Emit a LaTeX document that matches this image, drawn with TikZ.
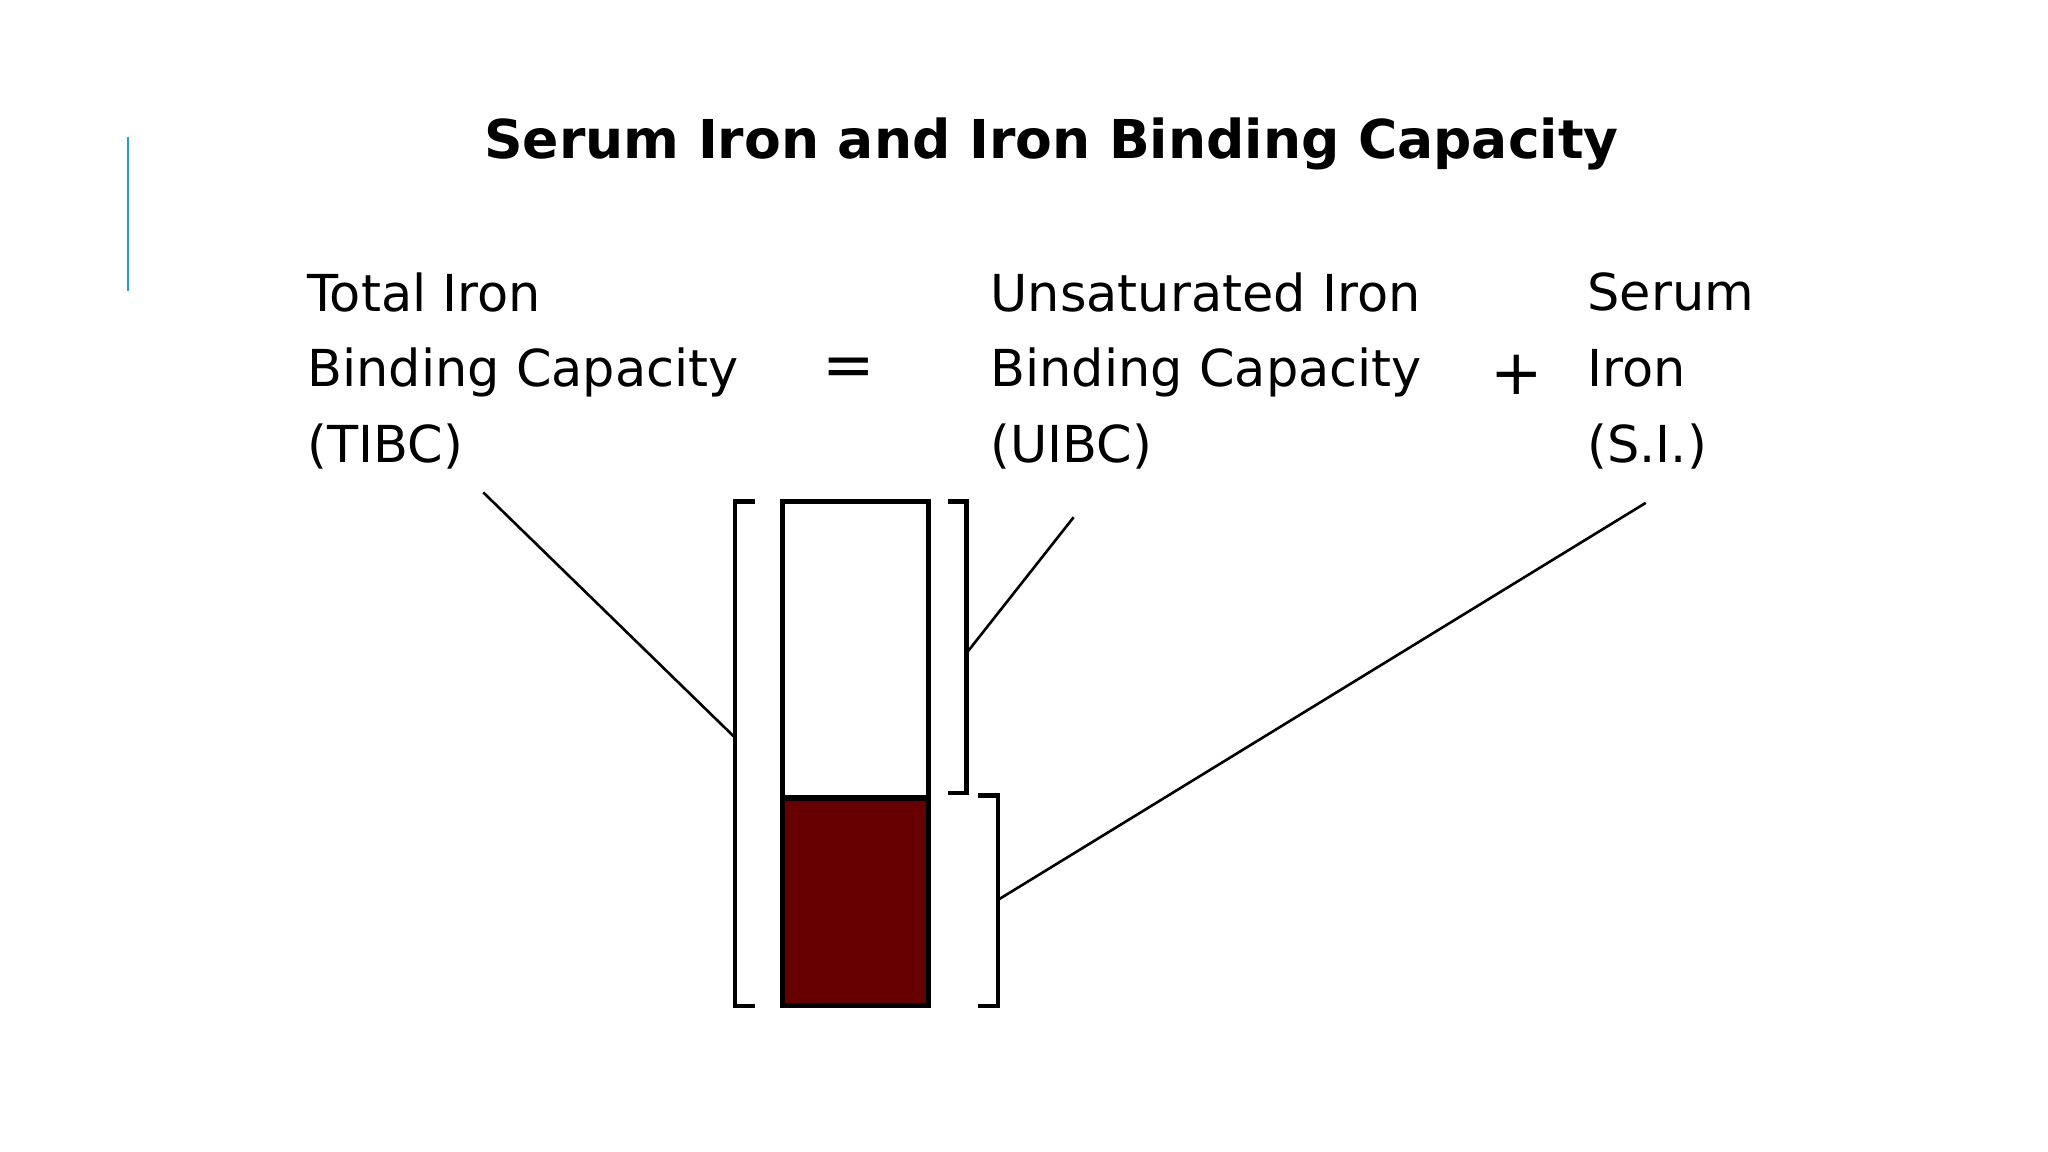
\documentclass[tikz,border=0pt]{standalone}
\usepackage{fontspec}
\setmainfont{DejaVu Sans}
\definecolor{iron}{HTML}{660000}
\definecolor{accent}{HTML}{1BA1D6}
\begin{document}
\begin{tikzpicture}[x=0.5pt,y=-0.5pt,
  lbl/.style={anchor=west,align=left,font=\fontsize{19.5}{29}\selectfont,inner sep=0pt},
  sym/.style={font=\fontsize{24}{28}\selectfont,inner sep=0pt},
  brk/.style={line width=1.6pt},
  lead/.style={line width=1pt}]
\useasboundingbox (0,0) rectangle (1568,882);
\draw[accent,line width=1pt] (98,105) -- (98,223);
\node[font=\bfseries\fontsize{20.5}{24}\selectfont] (title) at (805,110) {Serum Iron and Iron Binding Capacity};
\node[lbl] (tibc) at (235,284) {Total Iron\\Binding Capacity\\(TIBC)};
\node[sym] (eq) at (650,285) {=};
\node[lbl] (uibc) at (758,284) {Unsaturated Iron\\Binding Capacity\\(UIBC)};
\node[sym] (plus) at (1161,287) {+};
\node[lbl] (si) at (1215,284) {Serum\\Iron\\(S.I.)};
\node[draw,line width=2pt,fill=white,minimum width=56pt,minimum height=113.5pt,inner sep=0pt] (top) at (655,497.5) {};
\node[draw,line width=2pt,fill=iron,minimum width=56pt,minimum height=79.5pt,inner sep=0pt] (bot) at (655,690.5) {};
\draw[brk] (578,384) -- (563,384) -- (563,770) -- (578,770);
\draw[brk] (726,384) -- (740,384) -- (740,607) -- (726,607);
\draw[brk] (749,609) -- (764,609) -- (764,770) -- (749,770);
\coordinate (tl) at (370,377); \coordinate (tr) at (563,565);
\coordinate (ul) at (822,396); \coordinate (ur) at (740,500);
\coordinate (sl) at (1260,385); \coordinate (sr) at (764,689);
\draw[lead] (tl) -- (tr);
\draw[lead] (ul) -- (ur);
\draw[lead] (sl) -- (sr);
\end{tikzpicture}
\end{document}
